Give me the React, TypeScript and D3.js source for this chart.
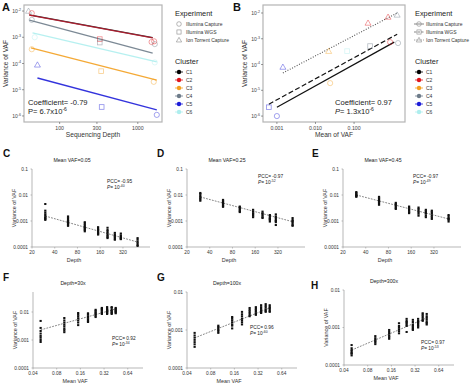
import React from 'react';
import * as d3 from 'd3';

// ---------- panel A / B data ----------
const clusters = ['C1', 'C2', 'C3', 'C4', 'C5', 'C6'];
const clusterColors = ['#000000', '#e0161c', '#f3a020', '#6e7c8a', '#1d1dd8', '#aeeeee'];
const experiments = ['Illumina Capture', 'Illumina WGS', 'Ion Torrent Capture'];

// A: variance vs sequencing depth
const aDepth = [40, 44, 44, 48, 44, 52, 326, 326, 340, 345, 1500, 1620, 1650, 1650, 1600, 1750];
const aVar = [0.01, 0.0083, 0.0046, 0.001, 0.00035, 0.000089, 0.00085, 0.00063, 0.000051, 0.0000022, 0.00066, 0.0007, 0.00055, 0.00011, 0.00002, 0.0000011];
const aCluster = [3, 1, 3, 5, 2, 4, 1, 3, 2, 4, 1, 1, 3, 5, 2, 4];
const aExp = [2, 0, 0, 0, 0, 2, 1, 1, 1, 1, 0, 0, 0, 0, 0, 0];

// A: fitted lines per cluster [x0, x1, y0, y1]
const aFitCluster = [0, 1, 3, 5, 2, 4];
const aFitX0 = [41, 41, 41, 45, 43, 52];
const aFitX1 = [1550, 1550, 1550, 1750, 1750, 1750];
const aFitY0 = [0.0072, 0.007, 0.0045, 0.00146, 0.00039, 0.000028];
const aFitY1 = [0.00097, 0.00094, 0.00025, 0.000115, 0.000023, 0.0000017];

// B: variance vs mean VAF
const bMean = [1.31, 0.76, 0.23, 0.86, 1.38, 0.26, 0.066, 0.022, 0.024, 0.00143, 0.00062, 0.001];
const bVar = [0.0084, 0.007, 0.0041, 0.00074, 0.00068, 0.00052, 0.00033, 0.00033, 0.000019, 0.00008, 0.0000022, 0.000001];
const bCluster = [3, 1, 1, 1, 3, 3, 5, 2, 2, 4, 4, 4];
const bExp = [2, 2, 2, 0, 0, 1, 1, 2, 0, 2, 1, 0];

// B: fitted lines per experiment
const bFitX0 = [0.001, 0.00062, 0.00143];
const bFitX1 = [1.1, 1.31, 1.31];
const bFitY0 = [0.0000022, 0.0000029, 0.000047];
const bFitY1 = [0.00074, 0.0015, 0.01];
const bFitDash = ['none', '5,2.5', '1,1.6'];

// ---------- panels C-H data ----------
const depthLevels = [30, 60, 100, 150, 200, 250, 300, 500];
const vafLevels = [0.05, 0.1, 0.15, 0.2, 0.25, 0.3, 0.35, 0.4, 0.45];
const depthTicks = [20, 40, 80, 160, 320];
const vafTicks = [0.04, 0.08, 0.16, 0.32, 0.64];

const varC = [
  [0.0045, 0.0025, 0.0021, 0.0018, 0.0016, 0.0014, 0.0013, 0.0012, 0.0011],
  [0.0015, 0.0013, 0.0011, 0.001, 0.0009, 0.0008, 0.00072, 0.00065],
  [0.0009, 0.0008, 0.0007, 0.0006, 0.00055, 0.0005, 0.00045, 0.0004],
  [0.00058, 0.0005, 0.00045, 0.0004, 0.00036, 0.00033, 0.0003],
  [0.00055, 0.00045, 0.0004, 0.00035, 0.0003, 0.00027, 0.00024, 0.00022],
  [0.00035, 0.0003, 0.00027, 0.00024, 0.00021, 0.00019],
  [0.00033, 0.00028, 0.00025, 0.00023, 0.00021, 0.0002],
  [0.00022, 0.00019, 0.00016, 0.00014, 0.00012, 0.00011],
];
const varD = [
  [0.012, 0.011, 0.0095, 0.0085, 0.0075, 0.0068, 0.006],
  [0.0065, 0.0058, 0.0052, 0.0047, 0.0042, 0.0038, 0.0035],
  [0.0036, 0.0033, 0.003, 0.0027, 0.0024, 0.0022],
  [0.0027, 0.0023, 0.002, 0.0018, 0.0016, 0.0014],
  [0.0023, 0.002, 0.0018, 0.0016, 0.0014, 0.0013],
  [0.0017, 0.0015, 0.0013, 0.0012, 0.0011, 0.00095],
  [0.0018, 0.0015, 0.0013, 0.0011, 0.001, 0.0009, 0.0007],
  [0.0013, 0.0011, 0.001, 0.0009, 0.0008, 0.0007, 0.00065],
];
const varE = [
  [0.013, 0.012, 0.011, 0.01, 0.0095, 0.009, 0.0085],
  [0.0085, 0.0075, 0.0068, 0.006, 0.0054, 0.0048, 0.0042],
  [0.005, 0.0045, 0.004, 0.0036, 0.0032, 0.0029],
  [0.0036, 0.0032, 0.0028, 0.0025, 0.0022, 0.002],
  [0.0033, 0.0029, 0.0025, 0.0022, 0.0019, 0.0016],
  [0.0027, 0.0024, 0.0021, 0.0019, 0.0016, 0.0014],
  [0.0025, 0.0022, 0.0019, 0.0016, 0.0014, 0.0012],
  [0.0017, 0.0015, 0.0013, 0.0012, 0.0011, 0.00095],
];
const varF = [
  [0.0048, 0.0027, 0.0021, 0.0017, 0.0014, 0.0012, 0.001, 0.00085],
  [0.0061, 0.005, 0.0042, 0.0035, 0.003, 0.0025, 0.0022, 0.0019],
  [0.0092, 0.008, 0.007, 0.006, 0.005, 0.0042, 0.0034],
  [0.009, 0.008, 0.007, 0.0062, 0.0055, 0.0049, 0.0044],
  [0.012, 0.011, 0.0098, 0.009, 0.0082, 0.0074, 0.0066],
  [0.014, 0.013, 0.012, 0.011, 0.0098, 0.0092, 0.0085],
  [0.015, 0.013, 0.012, 0.011, 0.01, 0.0092, 0.0085],
  [0.015, 0.014, 0.012, 0.011, 0.01, 0.0092, 0.0085],
  [0.014, 0.013, 0.012, 0.011, 0.0105, 0.0097, 0.009],
];
const varG = [
  [0.00084, 0.00072, 0.00063, 0.00055, 0.00048, 0.00042, 0.00036],
  [0.0013, 0.0012, 0.0011, 0.001, 0.00092, 0.00084],
  [0.0022, 0.002, 0.0018, 0.0016, 0.0014, 0.0013, 0.0011],
  [0.003, 0.0026, 0.0023, 0.002, 0.0018, 0.0016, 0.0014],
  [0.0038, 0.0034, 0.0031, 0.0028, 0.0025, 0.0023],
  [0.004, 0.0036, 0.0033, 0.003, 0.0027, 0.0025],
  [0.0045, 0.004, 0.0036, 0.0033, 0.003, 0.0028],
  [0.0048, 0.0043, 0.0039, 0.0035, 0.0032, 0.003],
  [0.0045, 0.0041, 0.0038, 0.0035, 0.0032, 0.003],
];
const varH = [
  [0.00034, 0.00028, 0.00025, 0.00023, 0.00021, 0.0002, 0.00018],
  [0.00059, 0.00052, 0.00047, 0.00043, 0.0004, 0.00036],
  [0.00086, 0.00076, 0.00068, 0.0006, 0.00055, 0.0005],
  [0.0013, 0.0011, 0.001, 0.0009, 0.0008, 0.0007],
  [0.0017, 0.0015, 0.0014, 0.0013, 0.0012, 0.0011, 0.00076],
  [0.0016, 0.0014, 0.0012, 0.0011, 0.001, 0.00093, 0.00086],
  [0.0017, 0.0015, 0.0014, 0.0013, 0.0012, 0.0011, 0.001],
  [0.0024, 0.0022, 0.002, 0.0018, 0.0016, 0.0015],
  [0.0023, 0.002, 0.0018, 0.0016, 0.0014, 0.0013, 0.0012],
];

// regression endpoints (variance at first and last level)
const fitC = [0.00155, 0.000155];
const fitD = [0.0084, 0.00094];
const fitE = [0.01, 0.0012];
const fitF = [0.0023, 0.0128];
const fitG = [0.00062, 0.0038];
const fitH = [0.00025, 0.0018];

const FONT = '"Liberation Sans", Arial, sans-serif';

function Sym({ shape, x, y, r, color, opacity = 1, sw = 0.8 }: any) {
  if (shape === 0) return <circle cx={x} cy={y} r={r} fill="none" stroke={color} strokeOpacity={opacity} strokeWidth={sw} />;
  if (shape === 1) return <rect x={x - r * 0.9} y={y - r * 0.9} width={r * 1.8} height={r * 1.8} fill="none" stroke={color} strokeOpacity={opacity} strokeWidth={sw} />;
  const h = r * 1.15;
  return <path d={`M${x},${y - h}L${x + h},${y + h * 0.75}L${x - h},${y + h * 0.75}Z`} fill="none" stroke={color} strokeOpacity={opacity} strokeWidth={sw} />;
}

function PowLabel({ x, y, exp, size = 5 }: any) {
  return (
    <text x={x} y={y} textAnchor="end" fontSize={size} fill="#444" fontFamily={FONT}>
      10<tspan dy={-2.2} fontSize={size * 0.72}>{exp}</tspan>
    </text>
  );
}

function TopPanel({ x, y, frame, xTicks, xTickLabels, xTitle, children }: any) {
  const yTicks = [-2, -3, -4, -5, -6];
  return (
    <g>
      <rect x={frame[0]} y={frame[1]} width={frame[2] - frame[0]} height={frame[3] - frame[1]} fill="#fff" stroke="#b4b4b4" strokeWidth={1.2} />
      {yTicks.map((e) => (
        <g key={e}>
          <line x1={frame[0] - 2} x2={frame[0]} y1={y(Math.pow(10, e))} y2={y(Math.pow(10, e))} stroke="#555" strokeWidth={0.6} />
          <PowLabel x={frame[0] - 3} y={y(Math.pow(10, e)) + 2} exp={String(e)} />
        </g>
      ))}
      {xTicks.map((t: number, i: number) => (
        <g key={t}>
          <line x1={x(t)} x2={x(t)} y1={frame[3]} y2={frame[3] + 2} stroke="#555" strokeWidth={0.6} />
          <text x={x(t)} y={frame[3] + 8} textAnchor="middle" fontSize={5.2} fill="#444" fontFamily={FONT}>{xTickLabels[i]}</text>
        </g>
      ))}
      <text x={(frame[0] + frame[2]) / 2} y={frame[3] + 15} textAnchor="middle" fontSize={6.6} fill="#333" fontFamily={FONT}>{xTitle}</text>
      <text transform={`translate(${frame[0] - 16},${(frame[1] + frame[3]) / 2}) rotate(-90)`} textAnchor="middle" fontSize={6.6} fill="#333" fontFamily={FONT}>Variance of VAF</text>
      {children}
    </g>
  );
}

function Legend({ x0, withLines }: any) {
  const expY = [24, 32, 40];
  const clY = [72, 80, 88, 96, 104, 112];
  const sx = withLines ? x0 + 4 : x0 + 4;
  return (
    <g fontFamily={FONT}>
      <text x={x0} y={16} fontSize={7.4} fill="#222">Experiment</text>
      {experiments.map((e, i) => (
        <g key={e}>
          {withLines && <line x1={sx - 5} x2={sx + 5} y1={expY[i]} y2={expY[i]} stroke="#555" strokeWidth={0.7} strokeDasharray={bFitDash[i] === 'none' ? undefined : i === 1 ? '2.5,1' : '0.8,1'} />}
          <Sym shape={i} x={sx} y={expY[i]} r={2.3} color="#888" sw={0.6} />
          <text x={x0 + 11} y={expY[i] + 1.8} fontSize={5} fill="#333">{e}</text>
        </g>
      ))}
      <text x={x0} y={64} fontSize={7.4} fill="#222">Cluster</text>
      {clusters.map((c, i) => (
        <g key={c}>
          <line x1={sx - 4} x2={sx + 4} y1={clY[i]} y2={clY[i]} stroke={clusterColors[i]} strokeWidth={0.8} />
          <circle cx={sx} cy={clY[i]} r={2.2} fill={clusterColors[i]} />
          <text x={x0 + 11} y={clY[i] + 1.8} fontSize={5} fill="#333">{c}</text>
        </g>
      ))}
    </g>
  );
}

function PanelA() {
  const frame = [24, 5, 162, 122];
  const x = d3.scaleLog().domain([35, 2040]).range([frame[0], frame[2]]);
  const y = d3.scaleLog().domain([Math.pow(10, -6.23), Math.pow(10, -1.77)]).range([frame[3], frame[1]]);
  return (
    <TopPanel x={x} y={y} frame={frame} xTicks={[100, 300, 1000]} xTickLabels={['100', '300', '1000']} xTitle="Sequencing Depth">
      {aFitCluster.map((c, i) => (
        <line key={i} x1={x(aFitX0[i])} x2={x(aFitX1[i])} y1={y(aFitY0[i])} y2={y(aFitY1[i])}
          stroke={c === 1 ? '#b51a2c' : clusterColors[c]} strokeWidth={1.3} strokeOpacity={c === 0 ? 0.8 : 0.9} />
      ))}
      {aDepth.map((d, i) => (
        <Sym key={i} shape={aExp[i]} x={x(d)} y={y(aVar[i])} r={2.6} color={clusterColors[aCluster[i]]} opacity={0.5} />
      ))}
      <text x={28} y={105} fontSize={7.6} fill="#222" fontFamily={FONT}>Coefficient= -0.79</text>
      <text x={28} y={114} fontSize={7.6} fill="#222" fontFamily={FONT}>P= 6.7x10<tspan dy={-3} fontSize={5}>-6</tspan></text>
    </TopPanel>
  );
}

function PanelB() {
  const frame = [263, 5, 405, 122];
  const x = d3.scaleLog().domain([Math.pow(10, -3.36), Math.pow(10, 0.32)]).range([frame[0], frame[2]]);
  const y = d3.scaleLog().domain([Math.pow(10, -6.23), Math.pow(10, -1.69)]).range([frame[3], frame[1]]);
  return (
    <TopPanel x={x} y={y} frame={frame} xTicks={[0.001, 0.01, 0.1]} xTickLabels={['0.001', '0.010', '0.100']} xTitle="Mean of VAF">
      {bFitX0.map((v, i) => (
        <line key={i} x1={x(v)} x2={x(bFitX1[i])} y1={y(bFitY0[i])} y2={y(bFitY1[i])}
          stroke={i === 2 ? '#555' : '#111'} strokeWidth={i === 2 ? 1.1 : 1.2} strokeDasharray={bFitDash[i] === 'none' ? undefined : bFitDash[i]} />
      ))}
      {bMean.map((m, i) => (
        <Sym key={i} shape={bExp[i]} x={x(m)} y={y(bVar[i])} r={2.6} color={clusterColors[bCluster[i]]} opacity={0.5} />
      ))}
      <text x={335} y={105} fontSize={7.6} fill="#222" fontFamily={FONT}>Coefficient= 0.97</text>
      <text x={335} y={114} fontSize={7.6} fill="#222" fontFamily={FONT}><tspan fontStyle="italic">P</tspan>= 1.3x10<tspan dy={-3} fontSize={5}>-6</tspan></text>
    </TopPanel>
  );
}

function DotPanel({ cfg }: any) {
  const { letter, lx, ly, title, ox, yTop, yBot, xLen, xDomain, yDomain, xTicks, levels, cols, fit, pcc, pExp, px, py, xTitle, yTicks } = cfg;
  const x = d3.scaleLog().domain(xDomain).range([ox, ox + xLen]);
  const y = d3.scaleLog().domain(yDomain).range([yBot, yTop]);
  const fitLine = d3.line<number[]>().x((d) => x(d[0])).y((d) => y(d[1]));
  const last = levels.length - 1;
  return (
    <g fontFamily={FONT}>
      <text x={lx} y={ly} fontSize={10} fontWeight="bold" fill="#111">{letter}</text>
      <text x={ox + 40} y={yTop - 7} textAnchor="middle" fontSize={5.2} fill="#222">{title}</text>
      <line x1={ox} x2={ox} y1={yTop} y2={yBot} stroke="#999" strokeWidth={0.7} />
      <line x1={ox} x2={ox + xLen} y1={yBot} y2={yBot} stroke="#999" strokeWidth={0.7} />
      {yTicks.map((t: number) => (
        <g key={t}>
          <line x1={ox - 1.5} x2={ox} y1={y(t)} y2={y(t)} stroke="#999" strokeWidth={0.6} />
          <text x={ox - 4} y={y(t) + 1.7} textAnchor="end" fontSize={4.8} fill="#333">{String(t)}</text>
        </g>
      ))}
      {xTicks.map((t: number) => (
        <g key={t}>
          <line x1={x(t)} x2={x(t)} y1={yBot} y2={yBot + 1.5} stroke="#999" strokeWidth={0.6} />
          <text x={x(t)} y={yBot + 7} textAnchor="middle" fontSize={4.8} fill="#333">{String(t)}</text>
        </g>
      ))}
      <text x={ox + 42} y={yBot + 15} textAnchor="middle" fontSize={5.4} fill="#333">{xTitle}</text>
      <text transform={`translate(${ox - 16},${(yTop + yBot) / 2}) rotate(-90)`} textAnchor="middle" fontSize={5.4} fill="#333">Variance of VAF</text>
      <path d={fitLine([[levels[0], fit[0]], [levels[last], fit[1]]]) || ''} stroke="#666" strokeWidth={0.8} strokeDasharray="1.8,1.2" fill="none" />
      {cols.map((col: number[], i: number) =>
        col.map((v, j) => (
          <rect key={`${i}-${j}`} x={x(levels[i]) - 1.1} y={y(v) - 1} width={2.2} height={2} fill="#111" />
        ))
      )}
      <text x={px} y={py} fontSize={4.8} fill="#222">{pcc}</text>
      <text x={px} y={py + 6} fontSize={4.8} fill="#222"><tspan fontStyle="italic">P</tspan>= 10<tspan dy={-1.8} fontSize={3.4}>{pExp}</tspan></text>
    </g>
  );
}

const depthDomain = [20, 730];
const vafDomain = [0.04, 1.0];
const row1Y = [0.0001, 0.1];
const row1Ticks = [0.1, 0.01, 0.001, 0.0001];

const panels = [
  { letter: 'C', lx: 3, ly: 157, title: 'Mean VAF=0.05', ox: 32, yTop: 169, yBot: 247, xLen: 118, xDomain: depthDomain, yDomain: row1Y, yTicks: row1Ticks, xTicks: depthTicks, levels: depthLevels, cols: varC, fit: fitC, pcc: 'PCC= -0.95', pExp: '-40', px: 107, py: 183, xTitle: 'Depth' },
  { letter: 'D', lx: 157, ly: 157, title: 'Mean VAF=0.25', ox: 187, yTop: 169, yBot: 247, xLen: 118, xDomain: depthDomain, yDomain: row1Y, yTicks: row1Ticks, xTicks: depthTicks, levels: depthLevels, cols: varD, fit: fitD, pcc: 'PCC= -0.97', pExp: '-52', px: 258, py: 178, xTitle: 'Depth' },
  { letter: 'E', lx: 312, ly: 157, title: 'Mean VAF=0.45', ox: 343, yTop: 169, yBot: 247, xLen: 118, xDomain: depthDomain, yDomain: row1Y, yTicks: row1Ticks, xTicks: depthTicks, levels: depthLevels, cols: varE, fit: fitE, pcc: 'PCC= -0.97', pExp: '-49', px: 413, py: 178, xTitle: 'Depth' },
  { letter: 'F', lx: 3, ly: 281, title: 'Depth=30x', ox: 33, yTop: 292, yBot: 368, xLen: 110, xDomain: vafDomain, yDomain: [0.0001, 0.0518], yTicks: [0.01, 0.001, 0.0001], xTicks: vafTicks, levels: vafLevels, cols: varF, fit: fitF, pcc: 'PCC= 0.92', pExp: '-34', px: 112, py: 340, xTitle: 'Mean VAF' },
  { letter: 'G', lx: 157, ly: 281, title: 'Depth=100x', ox: 187, yTop: 292, yBot: 368, xLen: 110, xDomain: vafDomain, yDomain: [0.0001, 0.01], yTicks: [0.01, 0.001, 0.0001], xTicks: vafTicks, levels: vafLevels, cols: varG, fit: fitG, pcc: 'PCC= 0.96', pExp: '-60', px: 250, py: 329, xTitle: 'Mean VAF' },
  { letter: 'H', lx: 311, ly: 289, title: 'Depth=300x', ox: 344, yTop: 290, yBot: 365, xLen: 110, xDomain: vafDomain, yDomain: [0.0001, 0.01], yTicks: [0.01, 0.001, 0.0001], xTicks: vafTicks, levels: vafLevels, cols: varH, fit: fitH, pcc: 'PCC= 0.97', pExp: '-53', px: 421, py: 344, xTitle: 'Mean VAF' },
];

export default function App() {
  return (
    <svg width={474} height={386} style={{ position: 'absolute', left: 0, top: 0, background: '#fff' }} fontFamily={FONT}>
      <rect width={474} height={386} fill="#fff" />
      <text x={2} y={11} fontSize={11} fontWeight="bold" fill="#111">A</text>
      <text x={233} y={11} fontSize={11} fontWeight="bold" fill="#111">B</text>
      <PanelA />
      <PanelB />
      <Legend x0={175} withLines={false} />
      <Legend x0={415} withLines={true} />
      {panels.map((p) => <DotPanel key={p.letter} cfg={p} />)}
    </svg>
  );
}
